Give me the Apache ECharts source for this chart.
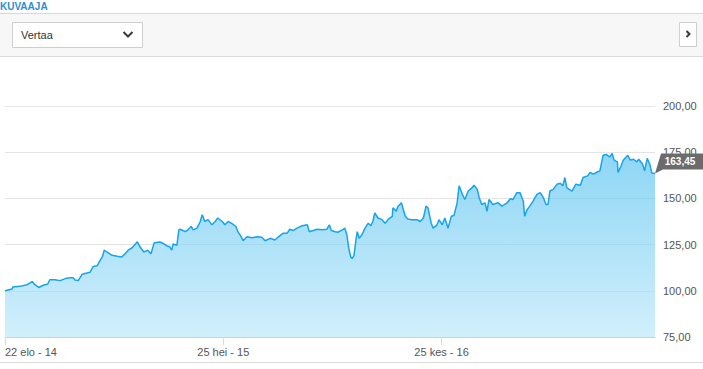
<!DOCTYPE html>
<html>
<head>
<meta charset="utf-8">
<script src="https://cdn.jsdelivr.net/npm/echarts@6/dist/echarts.min.js"></script>
<style>
html,body{margin:0;padding:0;background:#fff;}
#chart{width:703px;height:369px;}
</style>
</head>
<body>
<div id="chart"></div>
<script>
// Days since 22.8.2014
const dayOffsets = [0,11,12,23,34,42,46,52,59,66,69,77,85,93,100,105,108,113,119,125,131,136,142,146,150,153,157,165,173,180,185,190,196,204,208,214,220,225,230,239,244,250,254,257,259,265,268,270,278,282,287,290,296,301,304,308,313,319,324,328,335,339,344,350,356,359,364,367,373,381,389,396,401,409,416,421,429,435,439,444,450,458,466,469,475,481,489,496,500,503,509,513,520,524,527,530,533,535,538,541,543,546,550,555,560,564,567,570,575,581,586,591,597,598,603,606,611,614,617,621,627,635,640,645,649,652,657,660,666,669,674,678,683,688,692,697,700,705,709,714,720,723,728,731,735,740,743,746,752,760,766,774,779,783,789,794,799,801,805,809,814,820,825,830,834,837,840,845,851,856,860,863,866,874,880,887,891,898,902,907,913,917,922,927,932,936,939,944,945,950,953,960,964,969,974,977,983,986,990,994,997,1002];
const closeValues = [100,101,102,102.4,103.3,105,103.3,101.8,103,103.7,106,106,105.5,106.6,107,107.1,105.9,105.5,109,109.5,110,113.2,113.5,116,118.3,122,121,119.2,118.7,118.3,120,122,123.3,126.5,123.8,121,122,120,126,126.4,125.6,124.2,123.8,122,125.3,124.7,133,133.3,132,133,134.8,133,133.9,137.5,141.2,137.5,138.5,135.7,137.5,139.4,137.5,135.7,137.5,136.3,134.8,132,129.3,127.1,129.3,128.7,129.3,129,127.1,128.4,127.5,129,131.2,131.2,133.3,132.6,133.9,135.2,135.7,132,132.6,133.3,133,133.3,135.7,132.6,132,131.7,133,133.9,130.2,122.9,118.3,117.4,119.2,127.5,132,128.4,130.2,133.9,136.6,135.2,137.5,142.1,139.4,138.5,136.6,138.8,140.3,144.9,143,145.8,147.6,144,140.3,138.8,138.5,138.5,137.5,139.4,145.8,144.9,136.6,133.9,135.7,138.5,135.7,139.4,133.9,140.3,140.7,147.6,156.8,152.2,149.4,154,155.8,157.1,154.9,150.4,146.7,147.6,143,149.4,146.7,147.6,145.8,147.6,149.8,149.4,153.1,153.1,148.5,140.3,144,145.8,148.5,152.2,153.1,150.4,146.7,146.7,154,154.9,157.7,158.2,156.8,161.3,155.8,154,157.7,157.1,161.3,162.2,164.1,163.1,164.3,164.9,173.3,173.8,172.4,174.3,170.7,169.8,164.1,167.8,170.7,173.3,170.7,171.2,169.8,171.2,168.5,164.9,171.7,168.5,163.7,163.45];
const xTickLabels = ['22 elo - 14','25 hei - 15','25 kes - 16'];
const lastPriceLabel = '163,45';

const fmt = v => v.toFixed(2).replace('.', ',');
const seriesData = dayOffsets.map((d, i) => [d, closeValues[i]]);
const lastIdx = dayOffsets.length - 1;
const FONT = "'Liberation Sans', Arial, sans-serif";
const TICK_STEP = 336.5;

const chart = echarts.init(document.getElementById('chart'), null, {renderer: 'svg'});
chart.setOption({
  animation: false,
  backgroundColor: '#fff',
  textStyle: {fontFamily: FONT},
  grid: {left: 5, right: 48, top: 106, bottom: 32, containLabel: false},
  xAxis: {
    type: 'value',
    min: 0,
    max: dayOffsets[lastIdx],
    interval: TICK_STEP,
    splitLine: {show: false},
    axisLine: {show: true, lineStyle: {color: '#c6d3df', width: 1}},
    axisTick: {show: true, length: 8, lineStyle: {color: '#dcdcdc'}},
    axisLabel: {
      color: '#555', fontSize: 11, fontFamily: FONT, margin: 9,
      showMaxLabel: false, alignMinLabel: 'left',
      formatter: v => { const i = Math.round(v / TICK_STEP); return xTickLabels[i] || ''; }
    }
  },
  yAxis: {
    type: 'value',
    position: 'right',
    min: 75, max: 200, interval: 25,
    axisLine: {show: false},
    axisTick: {show: false},
    splitLine: {show: true, lineStyle: {color: '#e4e4e4', width: 1}},
    axisLabel: {color: '#555', fontSize: 11, fontFamily: FONT, margin: 8, padding: [0,0,7,0], formatter: fmt}
  },
  graphic: [
    {type: 'rect', shape: {x: 0, y: 13, width: 703, height: 43}, style: {fill: '#f7f7f7'}, silent: true},
    {type: 'line', shape: {x1: 0, y1: 13.5, x2: 703, y2: 13.5}, style: {stroke: '#d9d9d9', lineWidth: 1}},
    {type: 'line', shape: {x1: 0, y1: 56.5, x2: 703, y2: 56.5}, style: {stroke: '#d9d9d9', lineWidth: 1}},
    {type: 'text', left: 0, top: 1, style: {text: 'KUVAAJA', fill: '#2b8ed6', font: "bold 10px 'Liberation Sans', Arial, sans-serif"}},
    {type: 'rect', shape: {x: 12.5, y: 22.5, width: 130, height: 25}, style: {fill: '#fff', stroke: '#cfcfcf', lineWidth: 1}},
    {type: 'text', left: 21, top: 29, style: {text: 'Vertaa', fill: '#333', font: "11px 'Liberation Sans', Arial, sans-serif"}},
    {type: 'polyline', shape: {points: [[123.5, 32], [128, 36.5], [132.5, 32]]}, style: {stroke: '#3a3a3a', lineWidth: 2, fill: null}},
    {type: 'rect', shape: {x: 679.5, y: 22.5, width: 17, height: 24}, style: {fill: '#fff', stroke: '#cfcfcf', lineWidth: 1}},
    {type: 'polyline', shape: {points: [[686.5, 31], [689.5, 34], [686.5, 37]]}, style: {stroke: '#3a3a3a', lineWidth: 2, fill: null}},
    {type: 'line', shape: {x1: 0, y1: 362.5, x2: 703, y2: 362.5}, style: {stroke: '#dcdcdc', lineWidth: 1}}
  ],
  series: [{
    type: 'line',
    data: seriesData,
    symbol: 'none',
    smooth: false,
    lineStyle: {color: '#16a4ec', width: 1.5},
    areaStyle: {
      color: new echarts.graphic.LinearGradient(0, 0, 0, 1, [
        {offset: 0, color: 'rgba(84,193,240,0.94)'},
        {offset: 1, color: 'rgba(186,231,250,0.94)'}
      ])
    },
    markPoint: {
      silent: true,
      symbol: 'path://M0,20 L6,0 L50,0 L50,16 L8,16 Z',
      symbolSize: [50, 20],
      symbolKeepAspect: false,
      symbolOffset: [25, -10],
      itemStyle: {color: '#6b6b6b'},
      label: {show: true, position: 'inside', offset: [0, -2], color: '#fff', fontSize: 10, fontWeight: 'bold', fontFamily: FONT, formatter: () => lastPriceLabel},
      data: [{coord: [dayOffsets[lastIdx], closeValues[lastIdx]]}]
    }
  }]
});
</script>
</body>
</html>
